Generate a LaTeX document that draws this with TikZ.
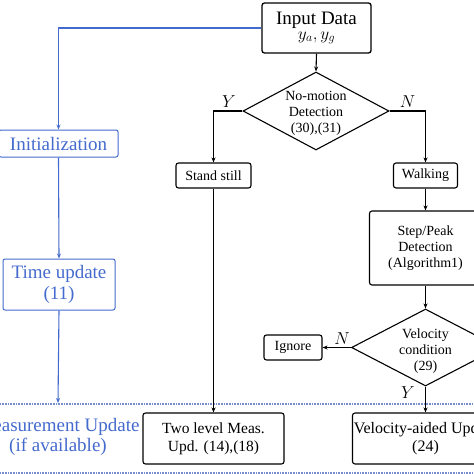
\documentclass[tikz,border=0pt]{standalone}
\usepackage{fontspec}
\setmainfont{Liberation Serif}
\usetikzlibrary{shapes.geometric,arrows.meta}
\definecolor{fblue}{RGB}{68,106,205}
\definecolor{dblue}{RGB}{120,140,205}
\begin{document}
\begin{tikzpicture}[x=1pt,y=-1pt,
  box/.style={draw=black, line width=1.1pt, rounded corners=2.5pt, inner sep=0pt, align=center},
  bbox/.style={draw=fblue, line width=1pt, rounded corners=2pt, inner sep=0pt, align=center, text=fblue, font=\fontsize{19}{21}\selectfont},
  decision/.style={draw=black, line width=1.1pt, diamond, inner sep=0pt},
  arr/.style={-{Stealth[length=5pt,width=4pt]}, line width=1.1pt},
  barr/.style={-{Stealth[length=5pt,width=4pt]}, line width=1.1pt, draw=fblue},
  sm/.style={font=\fontsize{14}{16}\selectfont},
  lbl/.style={font=\fontsize{19}{19}\selectfont, inner sep=0pt},
  dotline/.style={draw=dblue, line width=1.2pt, dash pattern=on 0.8pt off 0.8pt}
]
\useasboundingbox (0,0) rectangle (474,474);

% dotted separators
\draw[dotline] (0,404) -- (474,404);
\draw[dotline] (0,473) -- (474,473);

% blue part
\node[bbox, minimum width=119pt, minimum height=27pt] (init) at (58.5,143.5) {Initialization};
\node[bbox, minimum width=112pt, minimum height=51pt] (tu) at (59,284.5) {Time update\\(11)};
\node[align=center, text=fblue, font=\fontsize{19}{20}\selectfont, inner sep=0pt] (meas) at (58,437) {Measurement Update\\(if available)};
\coordinate (mtop) at (58,403);

% black part
\node[box, line width=1.3pt, minimum width=109pt, minimum height=50pt] (input) at (316.5,28)
  {{\fontsize{19}{19}\selectfont Input Data}\\[3pt]{\fontsize{17}{17}\selectfont $y_a,y_g$}};
\node[decision, minimum width=146pt, minimum height=78pt] (nm) at (316,111) {};
\node[sm, align=center, inner sep=0pt] (nmt) at (316,113) {No-motion\\Detection\\(30),(31)};
\node[box, sm, minimum width=75pt, minimum height=25pt] (ss) at (213.5,175.5) {Stand still};
\node[box, sm, minimum width=64pt, minimum height=25pt] (walk) at (425.5,175.5) {Walking};
\node[box, sm, minimum width=112pt, minimum height=74pt] (sp) at (425.5,248) {Step/Peak\\Detection\\(Algorithm1)};
\node[decision, minimum width=148pt, minimum height=77pt] (vc) at (425.5,347.5) {};
\node[sm, align=center, inner sep=0pt] (vct) at (425.5,351) {Velocity\\condition\\(29)};
\node[box, sm, minimum width=58pt, minimum height=25pt] (ign) at (293,347.5) {Ignore};
\node[box, font=\fontsize{15.5}{18}\selectfont, minimum width=141pt, minimum height=51pt] (two) at (213.5,438.5) {Two level Meas.\\Upd. (14),(18)};
\node[box, font=\fontsize{16}{18}\selectfont, minimum width=146pt, minimum height=51pt] (va) at (425.5,438.5) {Velocity-aided Update\\(24)};

% labels
\node[lbl] (ly1) at (229,101.5) {$Y$};
\node[lbl] (ln1) at (407.5,102) {$N$};
\node[lbl] (ln2) at (342,338.5) {$N$};
\node[lbl] (ly2) at (408,392.5) {$Y$};

% blue connectors
\draw[barr] (input.west) -| (init.north);
\draw[barr] (init.south) -- (tu.north);
\draw[barr] (tu.south) -- (mtop);

% black connectors
\draw[arr] (input.south) -- (nm.north);
\draw[arr] (nm.west) -| (ss.north);
\draw[arr] (nm.east) -| (walk.north);
\draw[arr] (walk.south) -- (sp.north);
\draw[arr] (sp.south) -- (vc.north);
\draw[arr] (vc.west) -- (ign.east);
\draw[arr] (vc.south) -- (va.north);
\draw[arr] (ss.south) -- (two.north);
\end{tikzpicture}
\end{document}
